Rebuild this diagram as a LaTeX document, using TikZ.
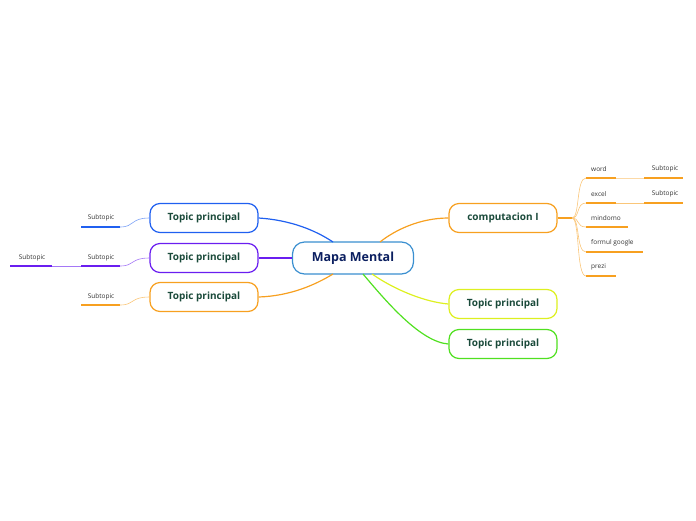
\documentclass[tikz,border=0pt]{standalone}
\usepackage{fontspec}
\setmainfont{Open Sans}
\definecolor{cblue}{HTML}{2060F0}
\definecolor{cpurp}{HTML}{6A1EF0}
\definecolor{corng}{HTML}{F7A020}
\definecolor{cyell}{HTML}{DDF020}
\definecolor{cgreen}{HTML}{50E020}
\definecolor{ccent}{HTML}{3A8FD0}
\definecolor{ttext}{HTML}{1A4A3A}
\begin{document}
\begin{tikzpicture}[x=1pt,y=-1pt,
  topic/.style={draw=#1,line width=1.2pt,rounded corners=10pt,fill=white,minimum width=108pt,minimum height=29pt,font=\bfseries\fontsize{10}{12}\selectfont,text=ttext},
  central/.style={draw=ccent,line width=1.2pt,rounded corners=12pt,fill=white,minimum width=121pt,minimum height=32pt,font=\bfseries\fontsize{12.5}{14}\selectfont,text=ttext!60!blue!70!black},
  sub/.style={font=\fontsize{6.5}{8}\selectfont,text=black!80,inner sep=1pt},
  ul/.style={line width=1.6pt,#1},
  con/.style={line width=1.2pt,#1},
  thin/.style={line width=0.6pt,#1}]
\useasboundingbox (0,0) rectangle (696,520);
% central
\node[central] (c) at (353,258) {Mapa Mental};
% left topics
\node[topic=cblue] (l1) at (204,218) {Topic principal};
\node[topic=cpurp] (l2) at (204,258) {Topic principal};
\node[topic=corng] (l3) at (204,297) {Topic principal};
% right topics
\node[topic=corng] (r1) at (503,218) {computacion I};
\node[topic=cyell] (r2) at (503,304) {Topic principal};
\node[topic=cgreen] (r3) at (503,344) {Topic principal};
% central connectors
\draw[con=cblue] (l1.east) .. controls (290,220) and (315,230) .. (333,242);
\draw[con=cpurp] (l2.east) -- (c.west);
\draw[con=corng] (l3.east) .. controls (290,296) and (315,285) .. (333,274);
\draw[con=corng] (r1.west) .. controls (420,218) and (395,230) .. (380,242);
\draw[con=cyell] (r2.west) .. controls (425,302) and (395,290) .. (372,274);
\draw[con=cgreen] (r3.west) .. controls (420,342) and (385,300) .. (363,274);
% left subtopics
\node[sub] (s1) at (101,218) {Subtopic};
\coordinate (s1a) at (81,227); \coordinate (s1b) at (120,227);
\draw[ul=cblue] (s1a) -- (s1b);
\draw[thin=cblue!60] (l1.west) .. controls (130,218) and (135,227) .. (s1b);
\node[sub] (s2) at (101,258) {Subtopic};
\coordinate (s2a) at (81,266); \coordinate (s2b) at (120,266);
\draw[ul=cpurp] (s2a) -- (s2b);
\draw[thin=cpurp!60] (l2.west) .. controls (130,258) and (135,266) .. (s2b);
\node[sub] (s4) at (32,258) {Subtopic};
\coordinate (s4a) at (10,266); \coordinate (s4b) at (52,266);
\draw[ul=cpurp] (s4a) -- (s4b);
\draw[thin=cpurp!60] (s4b) -- (s2a);
\node[sub] (s3) at (101,297) {Subtopic};
\coordinate (s3a) at (81,305); \coordinate (s3b) at (120,305);
\draw[ul=corng] (s3a) -- (s3b);
\draw[thin=corng!60] (l3.west) .. controls (130,297) and (135,305) .. (s3b);
% right children
\coordinate (hub) at (572,218);
\draw[con=corng] (r1.east) -- (hub);
\foreach \n/\t/\y/\w in {w/word/169/30,e/excel/194/30,m/mindomo/218/42,f/formul google/243/57,p/prezi/267/30}{
  \node[sub,anchor=west] (\n) at (590,\y) {\t};
  \coordinate (\n a) at (586,\y+9);
  \coordinate (\n b) at (586+\w,\y+9);
  \draw[ul=corng] (\n a) -- (\n b);
  \draw[thin=corng!60] (hub) .. controls (580,218) and (576,\y+9) .. (\n a);
}
\node[sub] (ws) at (665,169) {Subtopic};
\coordinate (wsa) at (644,178); \coordinate (wsb) at (683,178);
\draw[ul=corng] (wsa) -- (wsb);
\draw[thin=corng!40] (wb) -- (wsa);
\node[sub] (es) at (665,194) {Subtopic};
\coordinate (esa) at (644,203); \coordinate (esb) at (683,203);
\draw[ul=corng] (esa) -- (esb);
\draw[thin=corng!60] (eb) -- (esa);
\end{tikzpicture}
\end{document}
